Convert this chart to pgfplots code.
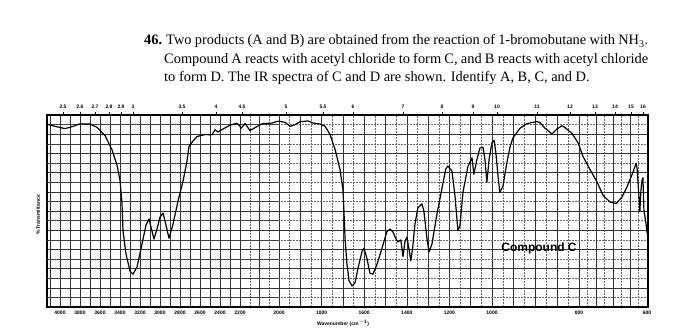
\documentclass[border=0pt]{standalone}
\usepackage{fontspec}
\setmainfont{Liberation Serif}
\newfontfamily\sansb{Liberation Sans}
\usepackage{pgfplots}
\pgfplotsset{compat=1.18}
\usepackage{pgfplotstable}

\pgfplotstableread{
wn T
4130 95.2
4050 94.1
3950 92.9
3880 93.9
3800 95.4
3700 95.3
3630 93.6
3550 89.3
3480 81.9
3430 73.9
3400 66.0
3380 53.9
3370 39.7
3340 27.6
3300 18.7
3270 17.1
3230 20.8
3180 32.8
3140 42.7
3110 45.9
3080 39.5
3060 35.4
3030 40.6
3000 46.8
2970 48.9
2940 42.6
2910 35.8
2870 43.1
2820 55.1
2770 65.5
2730 75.9
2710 83.7
2680 85.8
2630 88.8
2550 89.8
2480 89.7
2450 92.3
2420 91.2
2370 92.7
2300 94.7
2230 95.7
2200 94.1
2195 93.0
2174 95.6
2149 91.9
2123 93.4
2087 95.4
2036 95.8
2005 96.8
1972 96.2
1948 94.1
1925 95.0
1901 96.5
1864 96.9
1840 95.8
1808 95.3
1784 94.2
1761 90.0
1737 82.2
1714 71.8
1700 61.5
1695 49.7
1690 35.8
1681 22.4
1671 13.6
1657 11.0
1643 12.6
1629 20.3
1610 29.0
1601 30.5
1587 25.3
1573 17.6
1559 17.1
1540 22.2
1517 30.4
1494 39.1
1479 40.6
1465 39.1
1451 35.5
1442 33.9
1428 34.9
1418 26.2
1409 33.9
1400 36.4
1390 30.3
1381 24.1
1372 31.3
1362 43.0
1348 51.7
1329 53.7
1320 50.1
1306 36.3
1296 28.7
1282 32.7
1259 48.0
1235 61.7
1217 71.9
1207 73.4
1188 70.8
1174 58.1
1160 39.7
1150 42.7
1136 60.0
1113 73.2
1094 77.7
1085 69.1
1071 76.7
1057 82.8
1042 83.2
1033 76.6
1024 64.9
1014 76.6
1000 85.7
995 86.7
991 80.1
986 67.9
982 59.7
975 62.8
966 74.9
959 83.0
952 88.0
936 93.0
920 95.5
897 96.6
890 96.1
878 93.1
862 90.1
851 92.7
839 94.4
832 93.4
816 90.4
802 85.4
788 78.3
768 71.7
747 65.1
729 58.1
709 54.7
691 53.9
674 57.1
659 62.5
644 69.0
632 74.9
629 71.8
621 49.8
618 60.4
615 65.7
612 67.3
609 50.0
603 43.7
600 38.5
}\spec

\begin{document}
\begin{tikzpicture}[x=1pt,y=1pt,
  declare function={wx(\w)=(\w>2200) ? (60+(4000-\w)*0.1) : ((\w>2000) ? (240+(2200-\w)*0.195) : ((\w>1000) ? (279+(2000-\w)*0.213) : ((\w>800) ? (492+(1000-\w)*0.435) : (579+(800-\w)*0.34))));}]
\useasboundingbox (0,0) rectangle (696,329);

% question text
\node[anchor=base west, inner sep=0] at (144,284) {\fontsize{14.4}{17}\selectfont\textbf{46.}};
\node[anchor=base west, inner sep=0] at (166,284) {\fontsize{14.4}{17}\selectfont\makebox[482pt][s]{Two products (A and B) are obtained from the reaction of 1-bromobutane with NH\textsubscript{3}.}};
\node[anchor=base west, inner sep=0] at (164,265.5) {\fontsize{14.4}{17}\selectfont\makebox[484pt][s]{Compound A reacts with acetyl chloride to form C, and B reacts with acetyl chloride}};
\node[anchor=base west, inner sep=0] at (164,247) {\fontsize{14.4}{17}\selectfont to form D. The IR spectra of C and D are shown. Identify A, B, C, and D.};

\begin{axis}[
  at={(47pt,22pt)}, anchor=south west, scale only axis,
  width=601pt, height=192pt,
  xmin=47, xmax=648, ymin=0, ymax=100,
  xtick={60,80,100,120,140,160,180,200,220,240,279,321.6,364.2,406.8,449.4,492,579,647},
  xticklabels={4000,3800,3600,3400,3200,3000,2800,2600,2400,2200,2000,1800,1600,1400,1200,1000,800,600},
  extra x ticks={50,70,90,110,130,150,170,190,210,230,259.5,300.3,342.9,385.5,428.1,470.7,513.75,535.5,557.25,596,613,630},
  extra x tick labels={},
  extra x tick style={grid=major},
  minor xtick={249.75,269.25,289.65,311,332.25,353.55,374.85,396.15,417.45,438.75,460.05,481.35,502.9,524.6,546.4,568.1,587.5,604.5,621.5,638.5},
  ytick={0,10,...,100}, yticklabels={},
  minor ytick={5,15,...,95},
  grid=both,
  major grid style={black!80, line width=0.55pt},
  minor grid style={black!60, line width=0.4pt, dash pattern=on 1.5pt off 1.5pt},
  major tick length=0pt, minor tick length=0pt,
  axis line style={black, line width=1.2pt},
  xticklabel pos=bottom,
  xticklabel style={font=\sansb\bfseries\fontsize{5}{5}\selectfont, yshift=-0.5pt},
  xlabel={Wavenumber (cm\textsuperscript{$-$1})},
  xlabel style={font=\sansb\bfseries\fontsize{5}{5}\selectfont, at={(axis description cs:0.4925,-0.083)}, anchor=center},
  ylabel={\% Transmittance},
  ylabel style={font=\sansb\bfseries\fontsize{5}{5}\selectfont, at={(axis description cs:-0.006,0.479)}, anchor=south},
]
\pgfplotsinvokeforeach{5,15,25,35,45,55,65,75,85,95}{\draw[black!75, line width=0.45pt] (axis cs:47,#1) -- (axis cs:279,#1);}
\addplot[black, line width=1.2pt, line join=round] table[x expr={wx(\thisrow{wn})}, y=T] {\spec};
\node[font=\sansb\bfseries\fontsize{12}{12}\selectfont] at (axis cs:539,30.7) {Compound C};
\end{axis}

\begin{axis}[
  at={(47pt,22pt)}, anchor=south west, scale only axis,
  width=601pt, height=192pt,
  xmin=47, xmax=648, ymin=0, ymax=100,
  axis x line*=top, axis y line=none,
  xtick={63,80,95,109,121,133,182,216,242,286,323,353,403,442,473,497,537,570,595,615,631,643},
  xticklabels={2.5,2.6,2.7,2.8,2.9,3,3.5,4,4.5,5,5.5,6,7,8,9,10,11,12,13,14,15,16},
  xtick align=outside, major tick length=3pt,
  tick style={black, line width=0.6pt},
  axis line style={black, line width=1.2pt},
  xticklabel style={font=\sansb\bfseries\fontsize{5}{5}\selectfont},
]
\addplot[draw=none] coordinates {(47,0) (648,100)};
\end{axis}
\end{tikzpicture}
\end{document}
